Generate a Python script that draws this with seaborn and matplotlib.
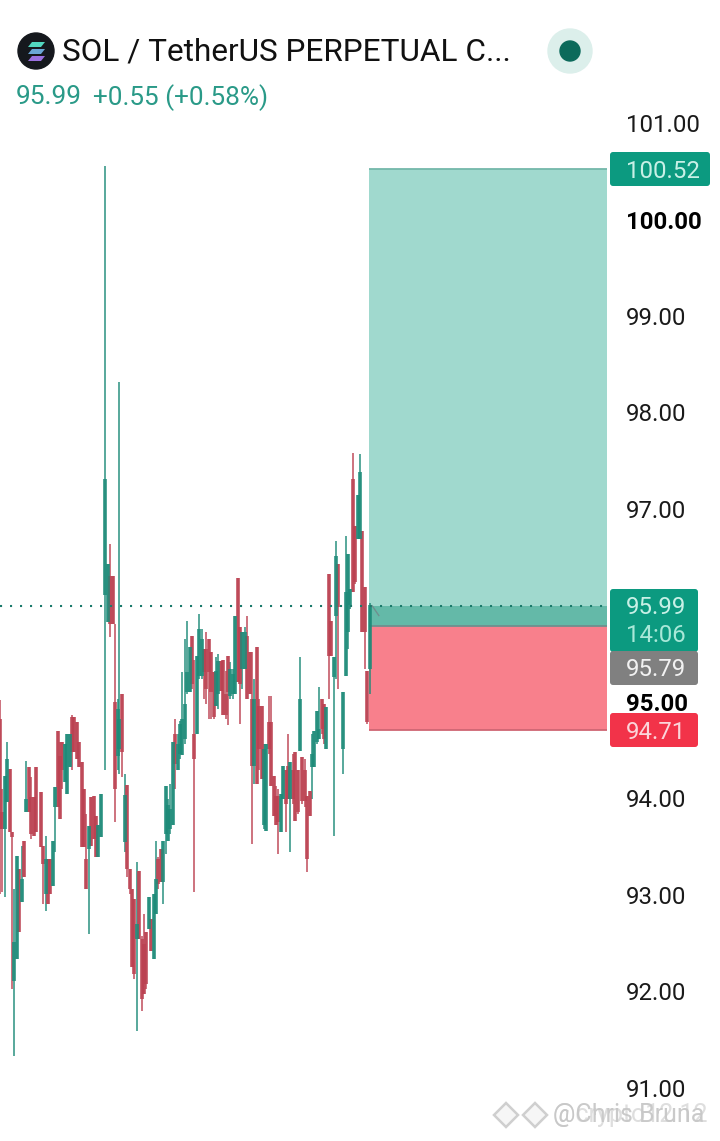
import matplotlib
matplotlib.use("Agg")
import matplotlib.pyplot as plt
from matplotlib.patches import Circle, FancyBboxPatch, Polygon
import pandas as pd
import seaborn as sns

# candles
bars = [0, 1, 2, 3, 4, 5, 6, 7, 8, 9, 10, 11, 12, 13, 14, 15, 17, 18, 19, 20,
        21, 22, 23, 24, 25, 26, 27, 28, 29, 30, 31, 32, 33, 34, 35, 36, 37, 38, 39, 40,
        41, 42, 43.7, 45, 46, 47, 48, 49, 49.6, 51, 52, 53, 54, 55, 56, 57, 58, 59, 60, 61,
        62, 63, 64, 65, 66, 67, 68, 69, 70, 71, 72, 73, 74, 75, 76, 77, 78, 79, 80, 81,
        82, 83, 84, 85, 86, 87, 88, 89, 90, 91, 92, 93, 94, 95, 96, 97, 98, 99, 100, 101,
        102, 103, 104, 105, 106, 107, 108, 109, 110, 111, 112, 113, 114, 115, 116, 117, 118, 119, 120, 121,
        122, 123, 124, 125, 126, 127, 128, 129, 130, 131, 132, 133, 134, 135, 136, 137, 138, 139, 140, 141,
        143, 144, 145, 146, 147, 148, 149, 150, 151, 152, 153, 154]
highs = [95.02, 94.10, 94.23, 94.59, 94.31, 93.65, 93.06, 93.40, 93.27, 93.51, 93.56, 94.39, 94.33, 94.22, 94.01, 94.33, 94.07, 93.51, 93.61, 93.37,
         93.37, 93.56, 94.12, 94.70, 94.59, 94.59, 94.56, 94.67, 94.67, 94.87, 94.84, 94.79, 94.58, 94.38, 94.10, 93.84, 93.71, 94.01, 94.03, 93.82,
         93.73, 94.05, 100.55, 96.43, 96.64, 96.31, 95.81, 95.03, 98.32, 95.08, 94.25, 94.14, 93.27, 93.06, 92.96, 93.34, 93.25, 92.57, 92.80, 92.62,
         92.98, 92.75, 93.01, 93.56, 93.39, 93.48, 93.56, 94.13, 93.99, 94.15, 94.58, 94.82, 94.67, 94.80, 95.31, 95.65, 95.84, 95.57, 95.68, 95.44,
         95.48, 95.91, 95.76, 95.55, 95.73, 95.65, 95.52, 95.31, 95.47, 95.50, 95.42, 95.44, 95.32, 95.48, 95.41, 95.34, 95.89, 96.28, 95.78, 95.73,
         95.78, 95.89, 95.52, 95.52, 95.24, 95.57, 95.03, 94.96, 94.56, 94.56, 95.06, 95.06, 94.23, 94.13, 94.10, 94.05, 94.34, 94.30, 94.67, 94.38,
         94.46, 94.48, 94.30, 95.47, 94.43, 94.41, 94.03, 94.08, 94.67, 94.70, 94.91, 95.15, 95.03, 94.98, 94.95, 96.33, 95.84, 95.47, 96.67, 96.43,
         95.10, 96.72, 96.53, 96.17, 97.58, 96.82, 97.15, 97.57, 96.77, 96.19, 95.32, 96.03]
lows = [93.01, 93.03, 92.98, 93.96, 93.65, 92.03, 91.33, 92.34, 92.62, 92.93, 93.19, 93.86, 93.86, 93.58, 93.61, 93.65, 93.50, 92.91, 92.83, 92.91,
        93.01, 93.09, 93.45, 93.91, 93.79, 94.10, 94.17, 94.05, 94.33, 94.30, 94.48, 94.41, 94.33, 93.50, 93.50, 93.06, 92.60, 93.51, 93.58, 93.39,
        93.39, 93.60, 94.30, 95.83, 95.67, 95.81, 93.76, 94.30, 94.25, 94.22, 93.45, 93.19, 93.01, 92.25, 92.13, 91.59, 92.54, 91.80, 91.97, 92.03,
        92.65, 92.42, 92.34, 92.80, 93.06, 93.13, 92.91, 93.42, 93.56, 93.63, 93.73, 94.10, 94.30, 94.41, 94.45, 94.56, 95.08, 95.10, 95.13, 93.03,
        94.67, 95.24, 95.24, 95.03, 94.98, 94.82, 94.82, 94.82, 94.96, 94.93, 95.11, 94.87, 94.82, 94.76, 95.03, 95.03, 95.08, 95.21, 94.77, 95.13,
        95.34, 95.03, 95.08, 93.53, 94.15, 94.15, 94.30, 94.20, 93.68, 93.66, 94.46, 94.13, 93.82, 93.73, 93.42, 93.65, 93.99, 93.65, 93.99, 93.45,
        93.94, 93.77, 93.84, 94.49, 93.94, 93.91, 93.24, 93.82, 93.99, 94.33, 94.56, 94.62, 94.67, 94.56, 94.51, 95.03, 95.48, 93.61, 95.24, 95.13,
        94.25, 95.27, 95.55, 95.96, 96.14, 96.22, 96.69, 96.69, 95.72, 95.34, 94.77, 95.08]
opens = [94.82, 93.86, 93.68, 93.96, 94.31, 93.65, 92.11, 92.34, 93.27, 92.93, 93.56, 93.86, 94.33, 94.01, 94.01, 94.33, 94.07, 93.51, 93.01, 93.37,
         93.37, 93.09, 93.91, 94.70, 94.44, 94.59, 94.17, 94.05, 94.33, 94.84, 94.84, 94.79, 94.58, 94.38, 94.10, 93.37, 93.48, 94.01, 94.03, 93.82,
         93.39, 93.60, 96.11, 95.83, 96.31, 96.31, 95.00, 94.44, 94.51, 95.08, 93.55, 94.14, 93.27, 93.06, 92.96, 92.54, 93.25, 92.54, 92.49, 92.62,
         92.65, 92.75, 92.34, 92.80, 93.37, 93.48, 93.13, 93.63, 93.56, 93.68, 93.73, 94.67, 94.30, 94.46, 94.45, 94.62, 95.10, 95.10, 95.68, 94.67,
         94.67, 95.27, 95.27, 95.55, 95.55, 95.65, 95.52, 95.31, 94.96, 95.08, 95.42, 95.44, 95.08, 95.48, 95.06, 95.08, 95.08, 96.28, 95.78, 95.34,
         95.34, 95.68, 95.52, 95.03, 94.34, 95.57, 94.96, 94.96, 93.73, 93.66, 94.79, 94.79, 94.23, 94.03, 94.03, 93.65, 93.99, 94.30, 94.34, 93.99,
         94.30, 94.48, 94.30, 94.49, 94.43, 94.30, 94.03, 94.08, 94.33, 94.33, 94.59, 94.62, 95.03, 94.98, 94.51, 96.33, 95.84, 95.26, 95.89, 96.43,
         94.51, 95.27, 95.73, 96.01, 97.31, 96.82, 96.69, 96.69, 96.77, 96.19, 95.32, 95.34]
closes = [93.68, 93.68, 94.23, 94.41, 93.65, 93.60, 92.51, 93.40, 92.62, 93.17, 93.19, 93.99, 93.86, 93.63, 93.61, 93.65, 93.50, 93.32, 93.37, 92.91,
          93.01, 93.56, 94.12, 93.91, 93.79, 94.30, 94.56, 94.67, 94.67, 94.48, 94.48, 94.41, 94.33, 93.50, 93.50, 93.06, 93.71, 93.51, 93.58, 93.39,
          93.73, 94.05, 97.31, 96.43, 95.81, 95.81, 94.10, 94.93, 94.82, 94.48, 94.04, 93.27, 93.06, 92.25, 92.18, 92.70, 92.54, 91.92, 91.97, 92.08,
          92.98, 92.42, 93.01, 93.17, 93.11, 93.13, 93.56, 94.13, 93.93, 93.89, 94.58, 94.36, 94.56, 94.77, 94.82, 94.98, 95.31, 95.57, 95.19, 94.41,
          95.48, 95.76, 95.65, 95.31, 95.13, 95.31, 95.10, 94.84, 95.32, 95.42, 95.11, 94.87, 94.87, 95.10, 95.34, 95.29, 95.89, 95.21, 95.19, 95.73,
          95.73, 95.03, 95.08, 94.34, 95.03, 94.15, 94.51, 94.20, 94.51, 94.56, 94.51, 94.13, 93.82, 93.73, 93.76, 94.05, 94.34, 93.94, 93.99, 94.38,
          93.99, 93.77, 93.86, 95.03, 93.97, 93.97, 93.37, 93.82, 94.46, 94.70, 94.91, 94.72, 94.72, 94.62, 94.95, 95.48, 95.48, 95.47, 96.51, 95.98,
          95.10, 96.14, 96.53, 96.17, 96.14, 96.24, 97.15, 97.38, 95.72, 95.72, 94.79, 96.00]

tick_values = [91, 92, 93, 94, 95, 97, 98, 99, 100, 101]
bold_ticks = [95, 100]
last_price = 95.99
entry_price = 95.79
target_price = 100.52
stop_price = 94.71
zone_start, zone_end = 153.75, 252.9

GREEN = "#1c8a78"
RED = "#bb4050"

sns.set_theme(style="white")
plt.rcParams["font.family"] = ["Roboto", "DejaVu Sans"]
plt.rcParams["lines.solid_capstyle"] = "butt"

candles = pd.DataFrame({"bar": bars, "high": highs, "low": lows, "open": opens, "close": closes})
candles["side"] = ["up" if c >= o else "down" for o, c in zip(candles["open"], candles["close"])]
wicks = candles.melt(id_vars=["bar", "side"], value_vars=["high", "low"], value_name="price")
bodies = candles.melt(id_vars=["bar", "side"], value_vars=["open", "close"], value_name="price")

fig = plt.figure(figsize=(7.2, 11.41), dpi=100)
ax = fig.add_axes([0, 0, 1, 1])
ax.set_xlim(0, 300)
ax.set_ylim(90.45, 102.275)

# position zones
ax.fill_between([zone_start, zone_end], last_price, target_price, color="#a0d9ce", lw=0, zorder=1)
ax.fill_between([zone_start, zone_end], entry_price, last_price, color="#64b9a8", lw=0, zorder=1)
ax.fill_between([zone_start, zone_end], stop_price, entry_price, color="#f8808c", lw=0, zorder=1)
ax.plot([zone_start, zone_end], [target_price] * 2, color="#74b8aa", lw=1.3, zorder=1.5)
ax.plot([zone_start, zone_end], [entry_price] * 2, color="#6f8f8e", lw=1.3, zorder=1.5)
ax.plot([zone_start, zone_end], [stop_price] * 2, color="#cf6673", lw=1.3, zorder=1.5)

palette = {"up": GREEN, "down": RED}
sns.lineplot(data=wicks, x="bar", y="price", hue="side", units="bar", estimator=None,
             palette=palette, lw=1.15, alpha=0.9, legend=False, ax=ax, zorder=3)
sns.lineplot(data=bodies, x="bar", y="price", hue="side", units="bar", estimator=None,
             palette=palette, lw=2.8, alpha=0.8, legend=False, ax=ax, zorder=3)

ax.plot([0, zone_end], [last_price] * 2, color="#1c7a6c", lw=1.5, ls=(0, (1, 3.8)), zorder=4)
ax.plot([155, 158], [96.0, 95.89], color="#6f8f8e", lw=1, zorder=4)

ax.yaxis.tick_right()
ax.set_yticks(tick_values)
ax.set_yticklabels([f"{v:.2f}" for v in tick_values])
ax.tick_params(axis="y", length=0, pad=-68, labelsize=17.3, labelcolor="#1a1a1a")
for label, v in zip(ax.get_yticklabels(), tick_values):
    if v in bold_ticks:
        label.set_fontweight("bold")
        label.set_color("#000000")
ax.set_xticks([])
ax.set_xlabel("")
ax.set_ylabel("")
sns.despine(ax=ax, left=True, right=True, top=True, bottom=True)

# header, price tags and watermark in pixel space
top = fig.add_axes([0, 0, 1, 1])
top.set_xlim(0, 720)
top.set_ylim(1141, 0)
top.axis("off")
top.patch.set_alpha(0)

top.add_patch(Circle((36, 51), 18, color="#15181d"))
for y0, c in zip([42, 49, 56], ["#52d8c0", "#6aa6d6", "#9a70e0"]):
    top.add_patch(Polygon([(28, y0 + 5), (41, y0 + 5), (45, y0), (32, y0)], color=c, lw=0))
top.text(62, 52, "SOL / TetherUS PERPETUAL C...", fontsize=22.7, color="#111111", va="center")
top.add_patch(Circle((570, 51), 22, color="#dcefeb"))
top.add_patch(Circle((570, 51), 10, color="#0b6a5b"))
top.text(16, 97.5, "95.99", fontsize=19, color="#2a9a88", va="center")
top.text(93, 97.5, "+0.55 (+0.58%)", fontsize=18.8, color="#2a9a88", va="center")


def tag(x0, x1, y0, y1, color):
    top.add_patch(FancyBboxPatch((x0 + 3, y0 + 3), x1 - x0 - 6, y1 - y0 - 6,
                                 boxstyle="round,pad=3,rounding_size=3", fc=color, ec="none", zorder=5))


tag(610, 710, 152, 186, "#0c9a80")
tag(610, 698, 589, 652, "#0c9a80")
tag(610, 698, 651, 685, "#808080")
tag(610, 698, 713, 747, "#f23349")
top.text(626, 171, "100.52", fontsize=17.3, color="#c8f0e6", va="center", zorder=6)
top.text(626, 607.5, "95.99", fontsize=17.3, color="#c8f0e6", va="center", zorder=6)
top.text(626, 635.5, "14:06", fontsize=17.3, color="#a8e8d8", va="center", zorder=6)
top.text(626, 669.5, "95.79", fontsize=17.3, color="#f2f2f2", va="center", zorder=6)
top.text(626, 732.5, "94.71", fontsize=17.3, color="#fbd5da", va="center", zorder=6)

for cx in [506, 535]:
    top.add_patch(Polygon([(cx - 12, 1115), (cx, 1103), (cx + 12, 1115), (cx, 1127)],
                          fc="#f6f6f6", ec="#cfcfcf", lw=1.8))
top.text(553, 1115, "@Chris Bruna", fontsize=18, color="#bdbdbd", va="center", alpha=0.8)
top.text(553, 1115, "@crypto12 12", fontsize=18, color="#c8c8c8", va="center", alpha=0.6)

fig.savefig("out.png", dpi=100)
